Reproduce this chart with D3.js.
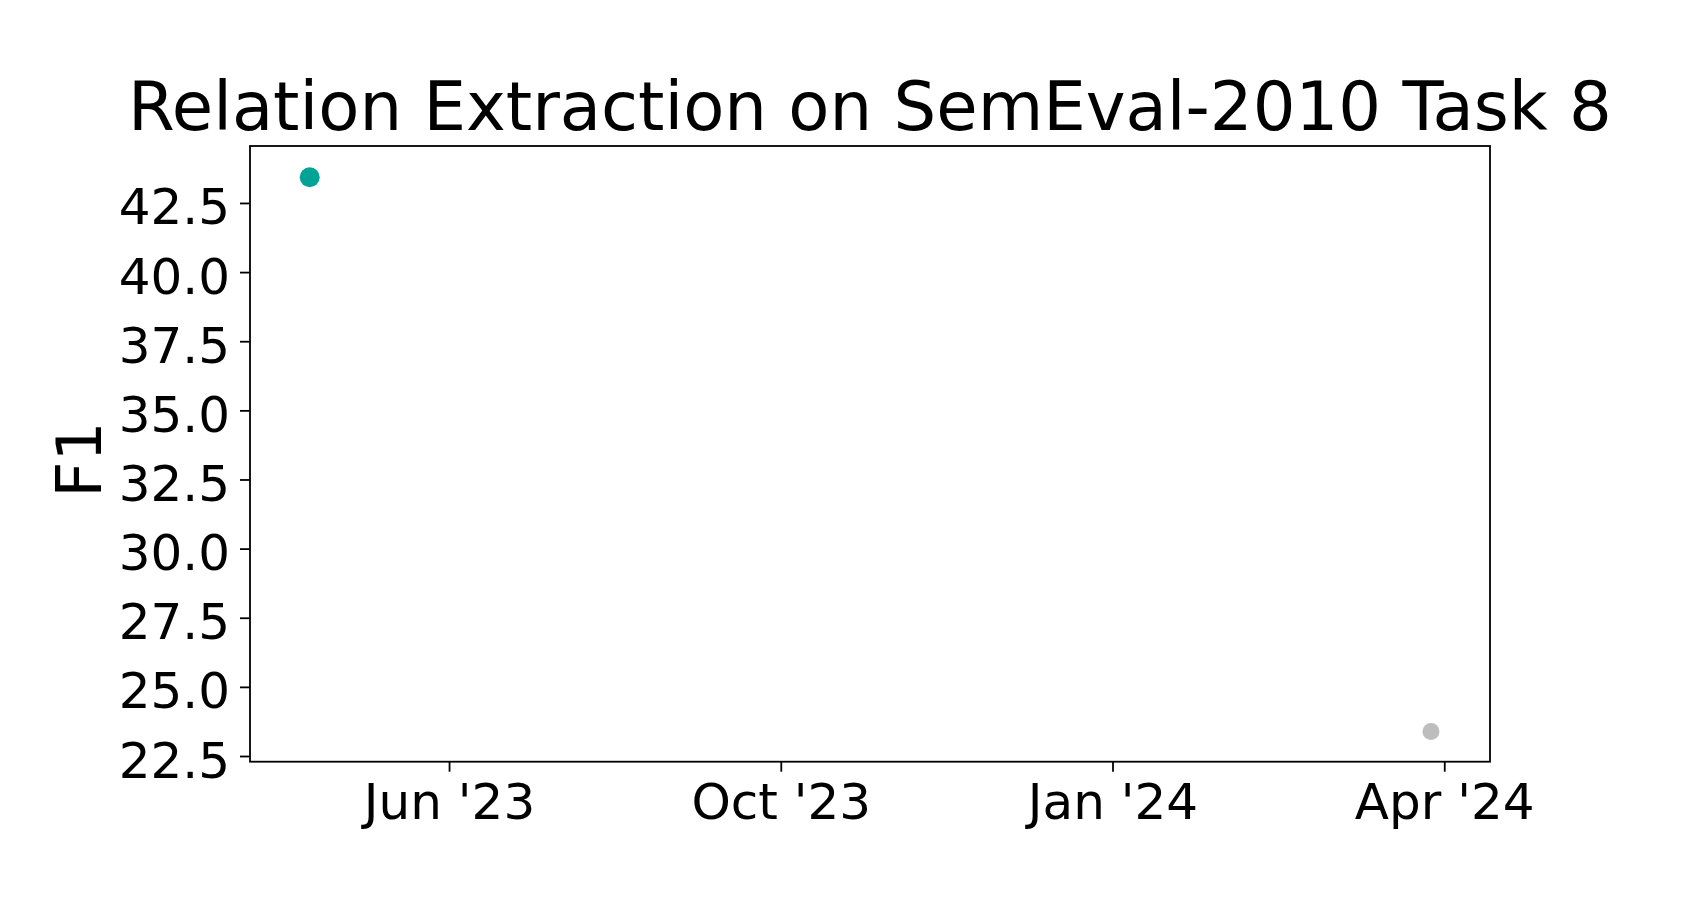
<!DOCTYPE html>
<html>
<head>
<meta charset="utf-8">
<script src="https://cdn.jsdelivr.net/npm/d3@7"></script>
<style>
  html, body { margin: 0; padding: 0; background: #ffffff; }
  svg { display: block; font-family: "DejaVu Sans", sans-serif; }
</style>
</head>
<body>
<svg id="chart" width="1700" height="900"></svg>
<script>
// ---- data ----
const models = ["Highlighted model", "Other model"];
const releaseDates = ["2023-05-18", "2024-04-20"];
const f1Scores = [43.43, 23.39];
const groups = ["highlight", "other"];
const yTickValues = [22.5, 25.0, 27.5, 30.0, 32.5, 35.0, 37.5, 40.0, 42.5];
const xTickDates = ["2023-06-29", "2023-10-07", "2024-01-15", "2024-04-24"];
const xTickLabels = ["Jun '23", "Oct '23", "Jan '24", "Apr '24"];
const titleText = "Relation Extraction on SemEval-2010 Task 8";
const yLabelText = "F1";

// ---- layout ----
const W = 1700, H = 900;
const plot = { left: 250, right: 1490, top: 146, bottom: 761.7 };
const xDomain = [new Date("2023-04-30T00:00:00"), new Date("2024-05-07T19:00:00")];
const yDomain = [22.294, 44.56];
const colors = { highlight: "#00a396", other: "#bdbdbd" };
const radii = { highlight: 10, other: 8.5 };
const parse = d3.timeParse("%Y-%m-%d");

const data = models.map((m, i) => ({
  model: m, date: parse(releaseDates[i]), f1: f1Scores[i], group: groups[i]
}));

const svg = d3.select("#chart");
svg.append("rect").attr("width", W).attr("height", H).attr("fill", "#ffffff");

const x = d3.scaleTime().domain(xDomain).range([plot.left, plot.right]);
const y = d3.scaleLinear().domain(yDomain).range([plot.bottom, plot.top]);

// points
svg.append("g").selectAll("circle")
  .data(data)
  .join("circle")
  .attr("cx", d => x(d.date))
  .attr("cy", d => y(d.f1))
  .attr("r", d => radii[d.group])
  .attr("fill", d => colors[d.group]);

// axes
const tickMap = new Map(xTickDates.map((d, i) => [+parse(d), xTickLabels[i]]));
const xAxis = d3.axisBottom(x)
  .tickValues(xTickDates.map(parse))
  .tickFormat(d => tickMap.get(+d))
  .tickSize(10).tickSizeOuter(0).tickPadding(0);
const yAxis = d3.axisLeft(y)
  .tickValues(yTickValues)
  .tickFormat(d3.format(".1f"))
  .tickSize(10).tickSizeOuter(0).tickPadding(0);

const gx = svg.append("g").attr("transform", `translate(0,${plot.bottom})`).call(xAxis);
gx.select(".domain").remove();
gx.selectAll(".tick line").attr("stroke", "#000").attr("stroke-width", 1.8);
gx.selectAll(".tick text")
  .attr("font-size", 50).attr("fill", "#000")
  .attr("font-family", "DejaVu Sans")
  .attr("dy", null).attr("y", 57.3);

const gy = svg.append("g").attr("transform", `translate(${plot.left},0)`).call(yAxis);
gy.select(".domain").remove();
gy.selectAll(".tick line").attr("stroke", "#000").attr("stroke-width", 1.8);
gy.selectAll(".tick text")
  .attr("font-size", 50).attr("fill", "#000")
  .attr("font-family", "DejaVu Sans")
  .attr("x", -20).attr("dy", null).attr("y", 21);

// frame
svg.append("rect")
  .attr("x", plot.left).attr("y", plot.top)
  .attr("width", plot.right - plot.left).attr("height", plot.bottom - plot.top)
  .attr("fill", "none").attr("stroke", "#000").attr("stroke-width", 1.8);

// title
svg.append("text")
  .attr("x", (plot.left + plot.right) / 2).attr("y", 130)
  .attr("text-anchor", "middle")
  .attr("font-size", 67.3).attr("fill", "#000")
  .text(titleText);

// y label
svg.append("text")
  .attr("transform", `translate(100.5,${459.5}) rotate(-90)`)
  .attr("text-anchor", "middle")
  .attr("font-size", 63).attr("fill", "#000")
  .text(yLabelText);
</script>
</body>
</html>
